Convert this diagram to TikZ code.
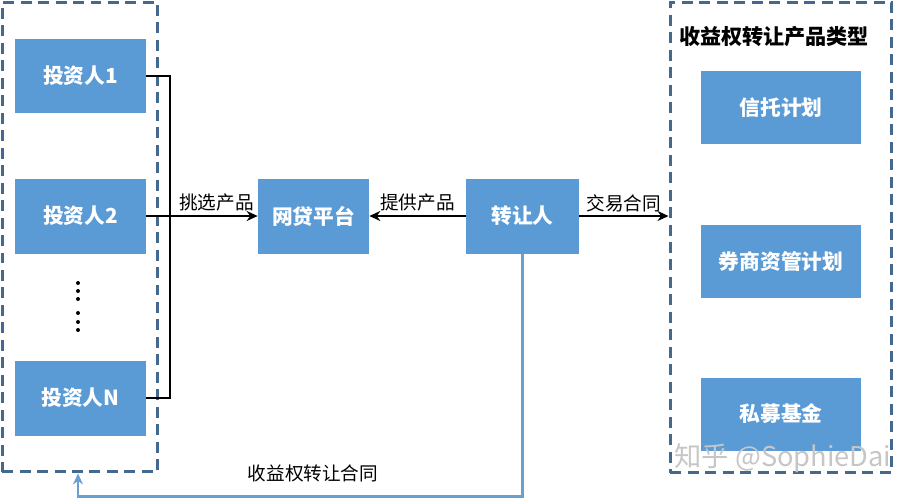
\documentclass[tikz,border=0pt]{standalone}
\usepackage{fontspec}
\setmainfont{Noto Sans CJK SC}
\usetikzlibrary{arrows.meta}

\definecolor{boxblue}{HTML}{5B9BD5}
\definecolor{frameblue}{HTML}{44698F}
\definecolor{lineblue}{HTML}{6A9FD2}

\tikzset{
  blockbox/.style={fill=boxblue, text=white, font=\bfseries\fontsize{11.8}{14}\selectfont,
    minimum height=1.5cm, inner sep=0pt},
  groupbox/.style={draw=frameblue, line width=1.7pt, dash pattern=on 2.2mm off 1.3mm},
  flow/.style={line width=1pt, -{Stealth[length=2.2mm, width=2mm]}},
  lbl/.style={font=\fontsize{10.6}{12}\selectfont, inner sep=2pt}
}

\begin{document}
\begin{tikzpicture}[x=0.02cm, y=-0.02cm]
  \useasboundingbox (0,0) rectangle (913,498);

  % Gruppen
  \node (grpL) [groupbox, minimum width=3.12cm, minimum height=9.4cm] at (80,237) {};
  \node (grpR) [groupbox, minimum width=4.44cm, minimum height=9.42cm] at (781,237.5) {};

  % Investoren
  \node (inv1) [blockbox, minimum width=2.62cm] at (80.5,76) {投资人1};
  \node (inv2) [blockbox, minimum width=2.62cm] at (80.5,216) {投资人2};
  \node (invN) [blockbox, minimum width=2.62cm] at (80.5,398) {投资人N};
  \foreach \y in {283,291,299,313,322,330}
    \fill (78,\y) circle (0.4mm);

  \node (pf) [blockbox, minimum width=2.22cm] at (313.5,216) {网贷平台};
  \node (zr) [blockbox, minimum width=2.26cm] at (522.5,216) {转让人};

  % Produkte
  \node (title) [font=\bfseries\fontsize{12}{14}\selectfont] at (774,37) {收益权转让产品类型};
  \node (p1) [blockbox, minimum width=3.2cm, minimum height=1.46cm] at (781,107.5) {信托计划};
  \node (p2) [blockbox, minimum width=3.2cm, minimum height=1.46cm] at (781,261.5) {券商资管计划};
  \node (p3) [blockbox, minimum width=3.2cm, minimum height=1.46cm] at (781,414) {私募基金};

  % Verbindungen
  \coordinate (bus) at (170,216);
  \draw[line width=1pt] (inv1.east) -| (bus) |- (invN.east);
  \draw[flow] (inv2.east) -- (pf.west) node[lbl, pos=0.63, above] {挑选产品};
  \draw[flow] (zr.west) -- (pf.east) node[lbl, midway, above] {提供产品};
  \draw[flow] (zr.east) -- (zr.east -| grpR.west) node[lbl, midway, above] {交易合同};

  \coordinate (low) at (78,496.5);
  \draw[lineblue, line width=1.4pt, -{Stealth[length=2.2mm, width=2mm]}]
    (zr.south) |- (low) -- (low |- grpL.south);
  \node (ct) [lbl] at (313,473) {收益权转让合同};

  \node (wm) [text=gray!45, font=\fontsize{15.5}{17}\selectfont] at (783,458) {知乎 @SophieDai};
\end{tikzpicture}
\end{document}
